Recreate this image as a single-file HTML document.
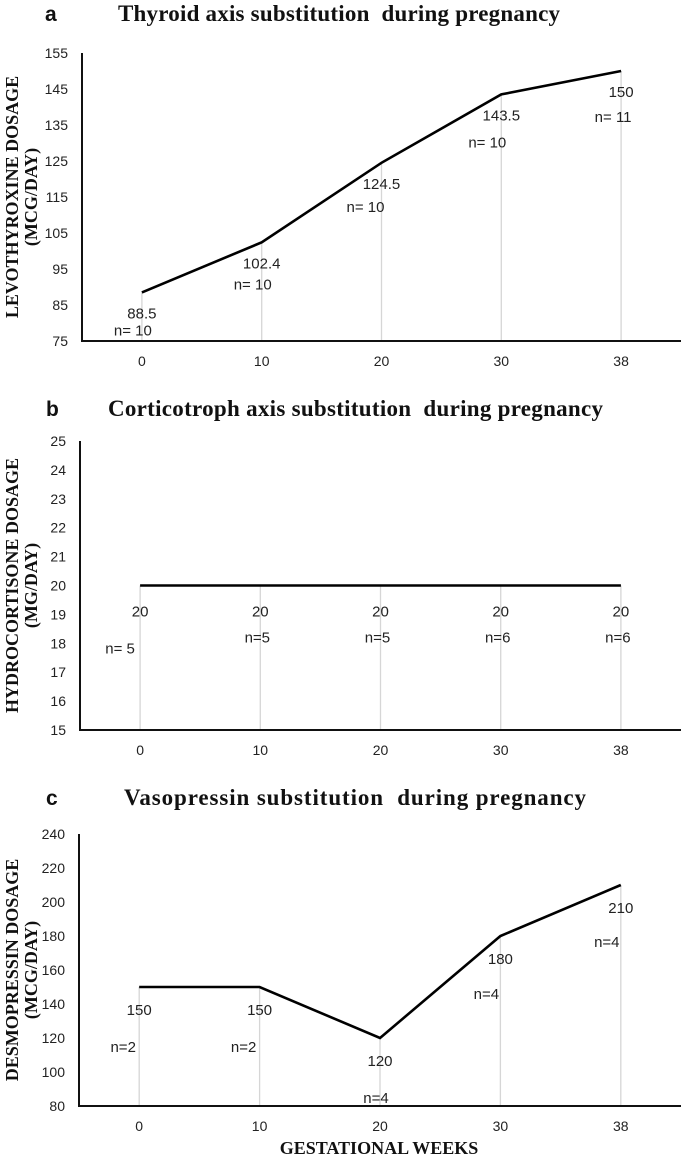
<!DOCTYPE html>
<html><head><meta charset="utf-8">
<style>
body{margin:0;background:#fff;width:685px;height:1159px;overflow:hidden}
svg{display:block}
.tick{font-family:"Liberation Sans",sans-serif;font-size:14px;fill:#222}
.lbl{font-family:"Liberation Sans",sans-serif;font-size:15px;fill:#222}
.ttl{font-family:"Liberation Serif",serif;font-weight:bold;font-size:23px;fill:#111;white-space:pre}
.let{font-family:"Liberation Sans",sans-serif;font-weight:bold;font-size:21px;fill:#111}
.yt{font-family:"Liberation Serif",serif;font-weight:bold;font-size:18px;fill:#111}
</style></head>
<body>
<svg id="chart" width="685" height="1159"></svg>
<script>
const categories = ["0","10","20","30","38"];
const thyroidValues = [88.5,102.4,124.5,143.5,150];
const thyroidN = ["n= 10","n= 10","n= 10","n= 10","n= 11"];
const thyroidTicks = [75,85,95,105,115,125,135,145,155];
const cortValues = [20,20,20,20,20];
const cortN = ["n= 5","n=5","n=5","n=6","n=6"];
const cortTicks = [15,16,17,18,19,20,21,22,23,24,25];
const vasoValues = [150,150,120,180,210];
const vasoN = ["n=2","n=2","n=4","n=4","n=4"];
const vasoTicks = [80,100,120,140,160,180,200,220,240];

const NS="http://www.w3.org/2000/svg";
const svg=document.getElementById('chart');
function mk(tag,attrs,parent,text){const e=document.createElementNS(NS,tag);for(const k in attrs)e.setAttribute(k,attrs[k]);if(text!==undefined)e.textContent=text;(parent||svg).appendChild(e);return e;}

function panel(o){
  const g=mk('g',{});
  
  
  const lo=o.ticks[0],hi=o.ticks[o.ticks.length-1];
  const y=v=>o.bottom-(v-lo)/(hi-lo)*(o.bottom-o.top);
  const band=(o.right-o.axisX)/5;
  const x=i=>o.axisX+band*(i+0.5);
  const let_=mk('text',{x:o.letX,y:o.titleY,class:'let'},g,o.letter);
  
  
  const t=mk('text',{x:o.titleX,y:o.titleY,class:'ttl',textLength:o.titleW,lengthAdjust:'spacing'},g,o.title);
  
  
  const cy=(o.top+o.bottom)/2;
  const yt=mk('text',{transform:`translate(${o.ytX},${cy}) rotate(-90)`,class:'yt','text-anchor':'middle'},g);
  
  
  mk('tspan',{x:0,dy:0},yt,o.ytitle1);
  mk('tspan',{x:0,dy:19},yt,o.ytitle2);
  o.ticks.forEach(v=>{const e=mk('text',{x:o.axisX-14,y:y(v)+5,class:'tick','text-anchor':'end'},g,String(v));
    });
  o.values.forEach((v,i)=>{const l=mk('line',{x1:x(i),x2:x(i),y1:y(v),y2:o.bottom,stroke:'#d6d6d6','stroke-width':1.3},g);
    });
  const ya=mk('line',{x1:o.axisX,x2:o.axisX,y1:o.top,y2:o.bottom+1,stroke:'#111','stroke-width':2},g);
  
  const xa=mk('line',{x1:o.axisX-1,x2:o.right,y1:o.bottom,y2:o.bottom,stroke:'#111','stroke-width':2},g);
  
  categories.forEach((c,i)=>{const e=mk('text',{x:x(i),y:o.bottom+25,class:'tick','text-anchor':'middle'},g,c);
    });
  const pts=o.values.map((v,i)=>x(i)+','+y(v)).join(' ');
  const pl=mk('polyline',{points:pts,fill:'none',stroke:'#000','stroke-width':2.6},g);
  
  o.values.forEach((v,i)=>{
    const a=mk('text',{x:x(i),y:y(v)+o.vdy,class:'lbl','text-anchor':'middle'},g,String(v));
    
    const b=mk('text',{x:x(i)+(o.ndx[i]||0),y:y(v)+o.ndy[i],class:'lbl','text-anchor':'middle'},g,o.n[i]);
    
  });
}
panel({name:'thyroid-panel',letter:'a',letX:45,titleX:118,titleY:21,titleW:442,title:'Thyroid axis substitution  during pregnancy',
  top:53,bottom:341,axisX:82,right:681,ticks:thyroidTicks,values:thyroidValues,n:thyroidN,
  ytX:18,ytitle1:'LEVOTHYROXINE DOSAGE',ytitle2:'(MCG/DAY)',vdy:26,ndx:[-9,-9,-16,-14,-8],ndy:[43,47,49,53,51]});
panel({name:'corticotroph-panel',letter:'b',letX:46,titleX:108,titleY:416,titleW:495,title:'Corticotroph axis substitution  during pregnancy',
  top:441,bottom:730,axisX:80,right:681,ticks:cortTicks,values:cortValues,n:cortN,
  ytX:18,ytitle1:'HYDROCORTISONE DOSAGE',ytitle2:'(MG/DAY)',vdy:31,ndx:[-20,-3,-3,-3,-3],ndy:[68,57,57,57,57]});
panel({name:'vasopressin-panel',letter:'c',letX:46,titleX:124,titleY:805,titleW:462,title:'Vasopressin substitution  during pregnancy',
  top:834,bottom:1106,axisX:79,right:681,ticks:vasoTicks,values:vasoValues,n:vasoN,
  ytX:18,ytitle1:'DESMOPRESSIN DOSAGE',ytitle2:'(MCG/DAY)',vdy:28,ndx:[-16,-16,-4,-14,-14],ndy:[65,65,65,63,62]});
const gx=mk('text',{x:379,y:1154,class:'yt','text-anchor':'middle','font-size':'19'},svg,'GESTATIONAL WEEKS');


</script>
</body></html>
